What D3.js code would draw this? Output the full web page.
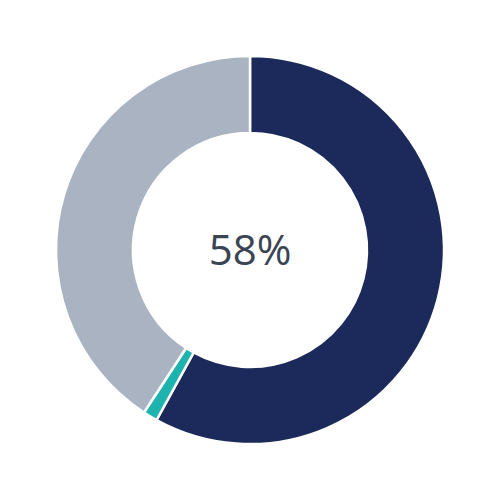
<!DOCTYPE html>
<html lang="en">
<head>
  <meta charset="UTF-8">
  <script src="https://d3js.org/d3.v7.min.js"></script>
  <style>
    body { margin: 0; background: #fff; font-family: "Open Sans", sans-serif; }
  </style>
</head>
<body>
  <div id="chart"></div>
  <script>
    const labels = ["Primary", "Secondary", "Other"];
    const values = [58, 1.2, 40.8];
    const colors = ["#1b2a5a", "#1fb3b0", "#a9b3c2"];
    const centerLabel = "58%";

    const width = 500, height = 500;
    const outer = 194, inner = 117;

    const svg = d3.select("#chart").append("svg")
      .attr("width", width)
      .attr("height", height);

    const g = svg.append("g").attr("transform", `translate(${width / 2},${height / 2})`);

    const pie = d3.pie().sort(null).value(d => d);
    const arc = d3.arc().innerRadius(inner).outerRadius(outer);

    g.selectAll("path")
      .data(pie(values))
      .enter().append("path")
        .attr("d", arc)
        .attr("fill", (d, i) => colors[i])
        .attr("stroke", "#fff")
        .attr("stroke-width", 2.5);

    g.append("text")
      .attr("text-anchor", "middle")
      .attr("dy", "0.35em")
      .attr("font-size", 42)
      .attr("fill", "#3b4452")
      .text(centerLabel);
  </script>
</body>
</html>
